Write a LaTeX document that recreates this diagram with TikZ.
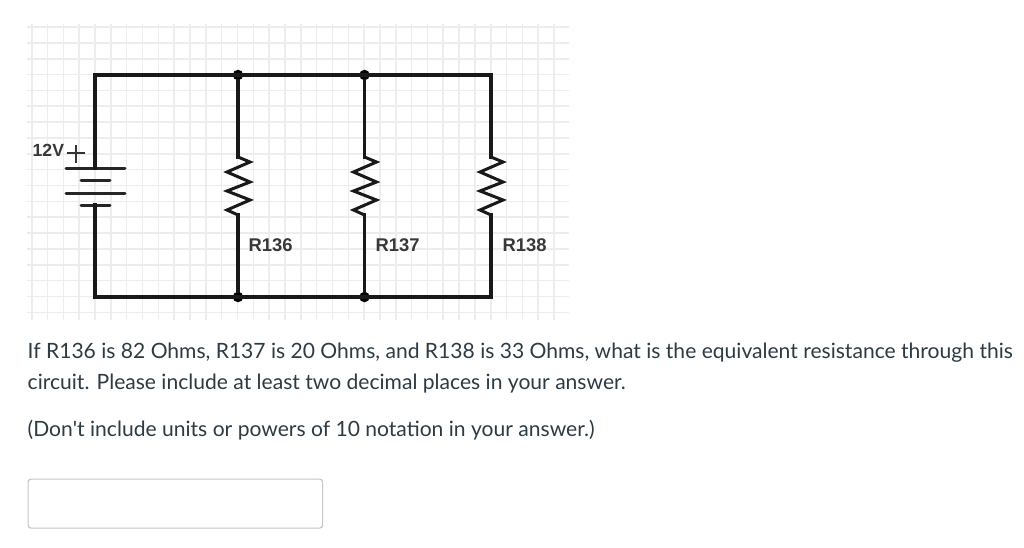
\documentclass[tikz,border=0pt]{standalone}
\usepackage{fontspec}
\setmainfont{Lato}
\newfontfamily\labelfont{Liberation Sans}
\definecolor{paratext}{HTML}{2D3B45}
\tikzset{
  wire/.style={line width=3.2pt,draw=black!90,line cap=rect,line join=miter},
  res/.style={line width=3pt,draw=black!90,line join=miter},
  plate/.style={line width=3pt,draw=black!85,line cap=round},
  dot/.style={circle,fill=black,inner sep=0pt,minimum size=10.5pt},
  lab/.style={anchor=base west,inner sep=0pt,font=\labelfont\bfseries\fontsize{18.4}{20}\selectfont,text=black!78},
  para/.style={anchor=base west,inner sep=0pt,font=\fontsize{21.07}{25}\selectfont,text=paratext},
  gridline/.style={line width=1.6pt,draw=black!7}
}
\begin{document}
\begin{tikzpicture}[x=1pt,y=-1pt]
\useasboundingbox (0,0) rectangle (1024,547);
\fill[white] (0,0) rectangle (1024,547);
% grid
\foreach \k in {0,...,33}{\draw[gridline] ({31.7+15.83*\k},24) -- ({31.7+15.83*\k},320);}
\foreach \k in {0,...,18}{\draw[gridline] (27,{27+15.85*\k}) -- (569,{27+15.85*\k});}
% junctions and corners
\coordinate (tl) at (95,75);
\coordinate (bl) at (95,297);
\coordinate (tr) at (491,75);
\coordinate (br) at (491,297);
\node[dot] (t1) at (238,75) {};
\node[dot] (t2) at (364.5,75) {};
\node[dot] (b1) at (238,297) {};
\node[dot] (b2) at (364.5,297) {};
% battery
\coordinate (p1) at (95,168);
\coordinate (p4) at (95,205);
\coordinate (p1l) at (66,168); \coordinate (p1r) at (125,168);
\coordinate (p2l) at (81,180); \coordinate (p2r) at (110,180);
\coordinate (p3l) at (66,193); \coordinate (p3r) at (125,193);
\coordinate (p4l) at (81,205); \coordinate (p4r) at (110,205);
\draw[plate] (p1l) -- (p1r);
\draw[plate] (p2l) -- (p2r);
\draw[plate] (p3l) -- (p3r);
\draw[plate] (p4l) -- (p4r);
% wires
\draw[wire] (p1) -- (tl) -- (t1.center) -- (t2.center) -- (tr) -- (491,157);
\draw[wire] (p4) -- (bl) -- (b1.center) -- (b2.center) -- (br) -- (491,215);
% resistors
\foreach \n/\x in {1/238,2/364.5}{
  \coordinate (a\n) at (\x,157);
  \coordinate (z\n) at (\x,215);
}
\coordinate (a3) at (491,157); \coordinate (z3) at (491,215);
\draw[wire] (t1) -- (a1); \draw[wire] (z1) -- (b1);
\draw[wire] (t2) -- (a2); \draw[wire] (z2) -- (b2);
\foreach \n in {1,2,3}{
  \draw[res] (a\n) -- ++(12,5) -- ++(-23,10) -- ++(23,10) -- ++(-23,9) -- ++(23,9) -- ++(-23,10) -- (z\n);
}
% plus
\coordinate (pl) at (67,153); \coordinate (pr) at (85,153);
\coordinate (pt) at (76,145); \coordinate (pb) at (76,163);
\draw[line width=2pt,draw=black!80] (pl) -- (pr);
\draw[line width=2pt,draw=black!80] (pt) -- (pb);
% labels
\node[lab,font=\labelfont\bfseries\fontsize{17.6}{20}\selectfont] (v) at (32.5,156) {12V};
\node[lab] (r1) at (248.5,251) {R136};
\node[lab] (r2) at (375.5,251) {R137};
\node[lab] (r3) at (502.5,251) {R138};
% text
\node[para] (l1) at (27.5,358.2) {If R136 is 82 Ohms, R137 is 20 Ohms, and R138 is 33 Ohms, what is the equivalent resistance through this};
\node[para] (l2) at (27.5,389.7) {circuit. Please include at least two decimal places in your answer.};
\node[para] (l3) at (27.5,436.8) {(Don\textquotesingle t include units or powers of 10 notation in your answer.)};
% input
\node[draw=black!22,line width=1.2pt,rounded corners=3pt,minimum width=294.5pt,minimum height=49pt,inner sep=0pt,anchor=north west] (box) at (27.5,478.5) {};
\end{tikzpicture}
\end{document}
